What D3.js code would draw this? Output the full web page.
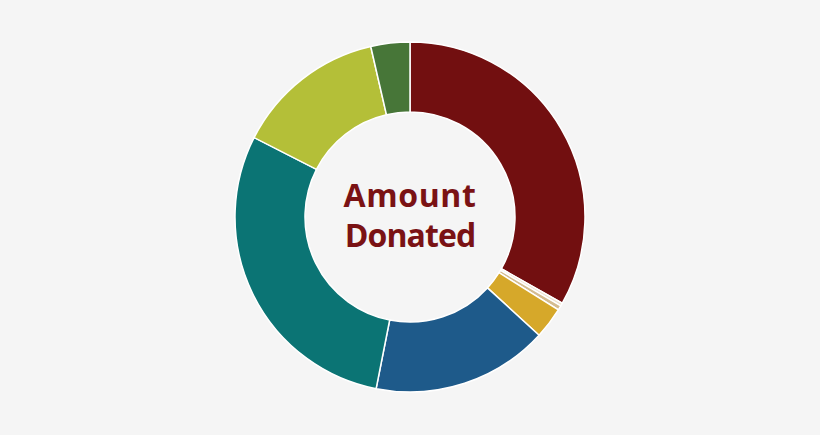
<!DOCTYPE html>
<html>
<head>
<meta charset="utf-8">
<script src="https://cdn.jsdelivr.net/npm/d3@7"></script>
<style>
  html, body { margin: 0; padding: 0; background: #f5f5f5; }
  .chart { width: 820px; height: 435px; }
</style>
</head>
<body>
<div class="chart"></div>
<script>
(() => {
  // slices clockwise from 12 o'clock (share of total, %)
  const categories = ["A", "B", "C", "D", "E", "F", "G", "H"];
  const values = [33.2, 0.28, 0.42, 2.9, 16.3, 29.4, 13.9, 3.6];
  const colors = ["#720f10", "#eee3cf", "#d4bc90", "#d6a82a", "#1e5a8a", "#0b7474", "#b4bf38", "#477638"];
  const titleLines = ["Amount", "Donated"];

  const width = 820;
  const height = 435;
  const cx = 410, cy = 217;
  const outerR = 175, innerR = 105;
  const titleSpacing = [0.6, -0.9]; // letter spacing per line

  const svg = d3
    .select(".chart")
    .append("svg")
    .attr("width", width)
    .attr("height", height)
    .style("background", "#f5f5f5");

  const g = svg.append("g").attr("transform", `translate(${cx},${cy})`);

  const data = categories.map((c, i) => ({ cat: c, value: values[i], color: colors[i] }));

  const pie = d3.pie().sort(null).value((d) => d.value);
  const arc = d3.arc().innerRadius(innerR).outerRadius(outerR);

  g.selectAll("path")
    .data(pie(data))
    .enter()
    .append("path")
    .attr("d", arc)
    .style("fill", (d) => d.data.color)
    .style("stroke", "#ffffff")
    .style("stroke-width", 1.5);

  g.selectAll("text.title")
    .data(titleLines)
    .enter()
    .append("text")
    .attr("class", "title")
    .attr("text-anchor", "middle")
    .attr("x", 0)
    .attr("y", (d, i) => -10 + i * 40)
    .style("font-family", "'Open Sans', sans-serif")
    .style("font-weight", "bold")
    .style("font-size", "32px")
    .style("letter-spacing", (d, i) => titleSpacing[i] + "px")
    .style("fill", "#7a1214")
    .text((d) => d);
})();
</script>
</body>
</html>
